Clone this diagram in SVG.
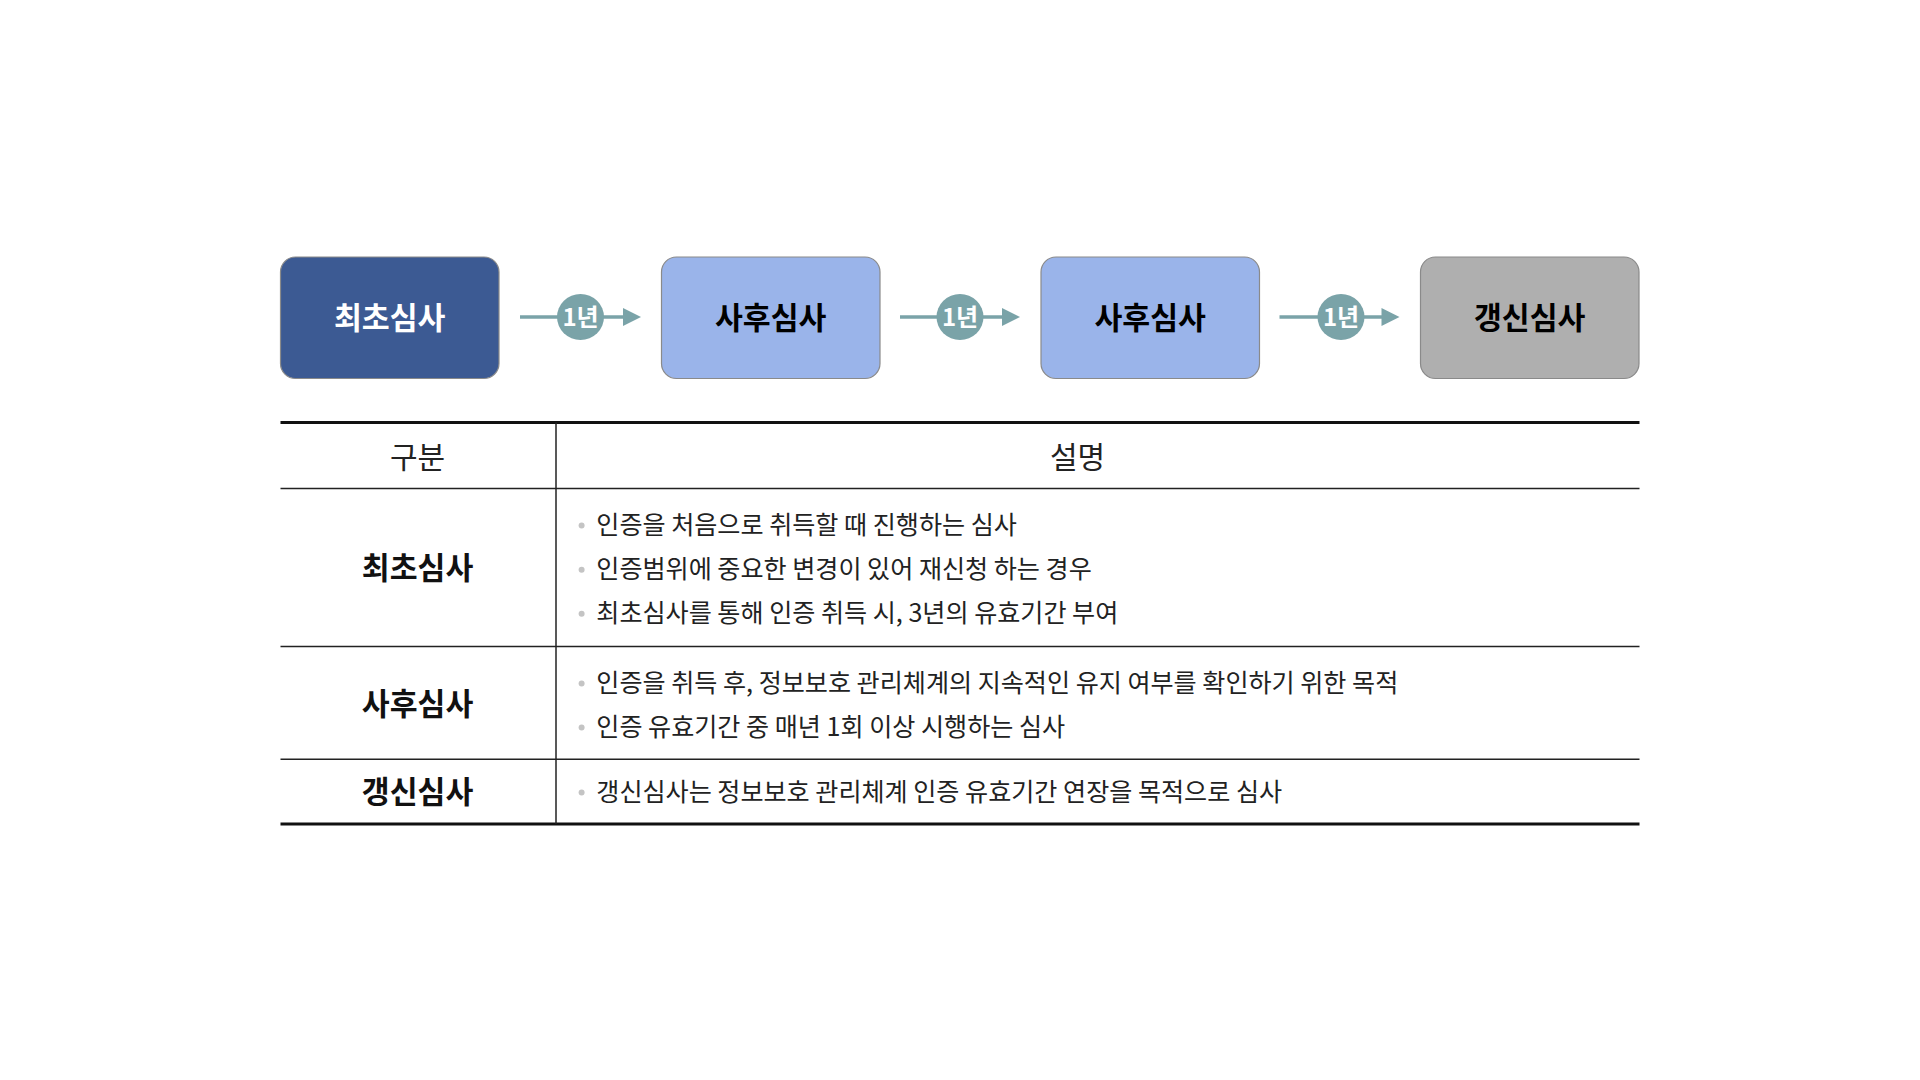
<svg xmlns="http://www.w3.org/2000/svg" width="1920" height="1080" viewBox="0 0 1920 1080">
<defs>
<style>
.box{stroke:#8a8a8a;stroke-width:1.2}
.bt{font-family:"Noto Sans CJK KR","Noto Sans",sans-serif;font-weight:700;font-size:30.3px;text-anchor:middle}
.yr{font-family:"Noto Sans CJK KR","Noto Sans",sans-serif;font-weight:700;font-size:24px;fill:#fff;text-anchor:middle}
.conn{stroke:#7aa3a8;stroke-width:3.5;fill:none}
.ah{fill:#7aa3a8}
.hd{font-family:"Noto Sans CJK KR","Noto Sans",sans-serif;font-size:30px;fill:#222;text-anchor:middle}
.lb{font-family:"Noto Sans CJK KR","Noto Sans",sans-serif;font-weight:700;font-size:30.3px;fill:#111;text-anchor:middle}
.tx{font-family:"Noto Sans CJK KR","Noto Sans",sans-serif;font-size:25.1px;fill:#222}
.bul{fill:#c4c4c4}
.thin{stroke:#222;stroke-width:1.5}
.thick{stroke:#111;stroke-width:2.8}
</style>
</defs>
<rect width="1920" height="1080" fill="#fff"/>

<g id="connectors">
  <g id="c1">
    <line class="conn" x1="520" y1="317" x2="628" y2="317"/>
    <polygon class="ah" points="623,308 641,317 623,326"/>
    <ellipse class="ah" cx="580.5" cy="317" rx="23.5" ry="23"/>
    <text class="yr" x="580.5" y="326">1년</text>
  </g>
  <g id="c2">
    <line class="conn" x1="900" y1="317" x2="1007" y2="317"/>
    <polygon class="ah" points="1002,308 1020,317 1002,326"/>
    <ellipse class="ah" cx="960" cy="317" rx="23.5" ry="23"/>
    <text class="yr" x="960" y="326">1년</text>
  </g>
  <g id="c3">
    <line class="conn" x1="1279.5" y1="317" x2="1386" y2="317"/>
    <polygon class="ah" points="1381.5,308 1399.5,317 1381.5,326"/>
    <ellipse class="ah" cx="1341" cy="317" rx="23.5" ry="23"/>
    <text class="yr" x="1341" y="326">1년</text>
  </g>
</g>

<g id="node-initial">
  <rect class="box" x="280.5" y="257" width="218.5" height="121.5" rx="15" fill="#3c5a93"/>
  <text class="bt" x="389.7" y="328.5" fill="#fff">최초심사</text>
</g>
<g id="node-follow1">
  <rect class="box" x="661.5" y="257" width="218.5" height="121.5" rx="15" fill="#9ab4ea"/>
  <text class="bt" x="770.7" y="328.5" fill="#000">사후심사</text>
</g>
<g id="node-follow2">
  <rect class="box" x="1041" y="257" width="218.5" height="121.5" rx="15" fill="#9ab4ea"/>
  <text class="bt" x="1150.2" y="328.5" fill="#000">사후심사</text>
</g>
<g id="node-renewal">
  <rect class="box" x="1420.5" y="257" width="218.5" height="121.5" rx="15" fill="#afafaf"/>
  <text class="bt" x="1529.7" y="328.5" fill="#000">갱신심사</text>
</g>

<g id="table">
  <line class="thick" x1="280.5" y1="422.5" x2="1639.5" y2="422.5"/>
  <line class="thin" x1="280.5" y1="488.6" x2="1639.5" y2="488.6"/>
  <line class="thin" x1="280.5" y1="646.5" x2="1639.5" y2="646.5"/>
  <line class="thin" x1="280.5" y1="759.2" x2="1639.5" y2="759.2"/>
  <line class="thick" x1="280.5" y1="824" x2="1639.5" y2="824"/>
  <line class="thin" x1="556" y1="422.5" x2="556" y2="824"/>

  <text class="hd" x="417.6" y="468">구분</text>
  <text class="hd" x="1077.6" y="468">설명</text>

  <text class="lb" x="417.6" y="578.5">최초심사</text>
  <text class="lb" x="417.6" y="714.5">사후심사</text>
  <text class="lb" x="417.6" y="802.5">갱신심사</text>

  <g id="row-initial">
    <circle class="bul" cx="581.6" cy="525.5" r="3"/>
    <text class="tx" x="596.3" y="533.5">인증을 처음으로 취득할 때 진행하는 심사</text>
    <circle class="bul" cx="581.6" cy="569.7" r="3"/>
    <text class="tx" x="596.3" y="577.7">인증범위에 중요한 변경이 있어 재신청 하는 경우</text>
    <circle class="bul" cx="581.6" cy="613.8" r="3"/>
    <text class="tx" x="596.3" y="621.8">최초심사를 통해 인증 취득 시, 3년의 유효기간 부여</text>
  </g>
  <g id="row-follow">
    <circle class="bul" cx="581.6" cy="683.5" r="3"/>
    <text class="tx" x="596.3" y="691.5">인증을 취득 후, 정보보호 관리체계의 지속적인 유지 여부를 확인하기 위한 목적</text>
    <circle class="bul" cx="581.6" cy="727.5" r="3"/>
    <text class="tx" x="596.3" y="735.5">인증 유효기간 중 매년 1회 이상 시행하는 심사</text>
  </g>
  <g id="row-renewal">
    <circle class="bul" cx="581.6" cy="792.5" r="3"/>
    <text class="tx" x="596.3" y="800.5">갱신심사는 정보보호 관리체계 인증 유효기간 연장을 목적으로 심사</text>
  </g>
</g>
</svg>
